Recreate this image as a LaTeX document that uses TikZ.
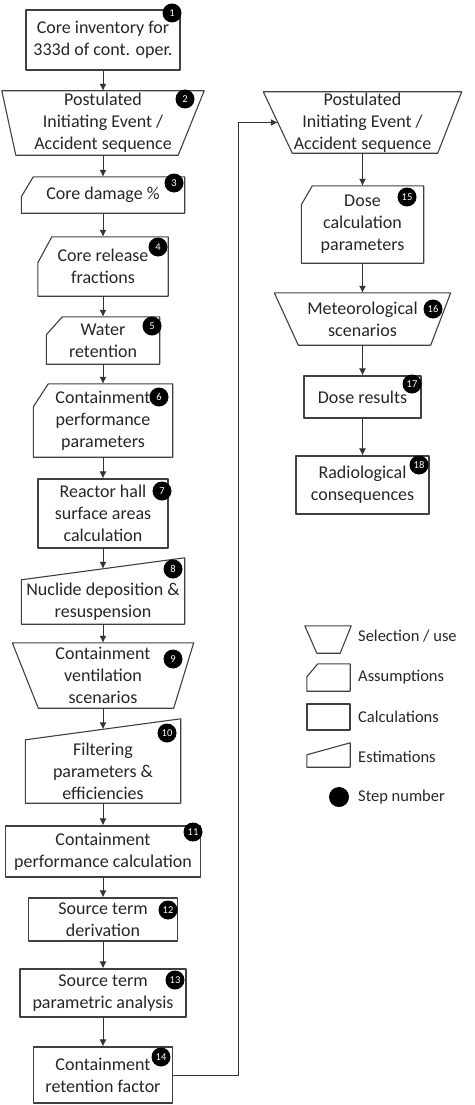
\documentclass[tikz,border=0pt]{standalone}
\usepackage{fontspec}
\setmainfont{Carlito}
\usetikzlibrary{arrows.meta}
\tikzset{
  every node/.style={font=\fontsize{18}{22}\selectfont, text=black!85, align=center, inner sep=0pt},
}
\begin{document}
\begin{tikzpicture}[x=1pt, y=-1pt, line join=round,
    wh/.style 2 args={minimum width=#1pt, minimum height=#2pt},
    calcbox/.style={draw=black!75, line width=1.1pt},
    outline/.style={draw=black!75, line width=1.1pt},
    arrow/.style={draw=black!80, line width=1pt, -{Latex[length=7pt,width=7pt]}},
    badge/.style={circle, fill=black, minimum size=19pt, text=white, font=\fontsize{10.5}{11}\selectfont},
    keytext/.style={anchor=west, font=\fontsize{16.5}{20}\selectfont}]
    \clip (0,0) rectangle (474,1105);

    % left column
    \node[calcbox, wh={154}{60}] (n1) at (103,40) {Core inventory for\\333d of cont. oper.};
    \node[wh={202}{64}] (n2) at (103,123) {Postulated\\Initiating Event /\\Accident sequence};
    \node[wh={163}{36}] (n3) at (103,195) {Core damage \%};
    \node[wh={130}{59}] (n4) at (103,266.5) {Core release\\fractions};
    \node[wh={113}{47}] (n5) at (103,340.5) {Water\\retention};
    \node[wh={139}{73}] (n6) at (103,420.5) {Containment\\performance\\parameters};
    \node[calcbox, wh={130}{69}] (n7) at (103,513.5) {Reactor hall\\surface areas\\calculation};
    \node[wh={163}{44}] (n8) at (103,602) {Nuclide deposition \&\\resuspension};
    \node[wh={181}{65}] (n9) at (103,675.5) {Containment\\ventilation\\scenarios};
    \node[wh={155}{63}] (n10) at (103,771.5) {Filtering\\parameters \&\\efficiencies};
    \node[calcbox, wh={195}{51}] (n11) at (103,851.5) {Containment\\performance calculation};
    \node[calcbox, wh={149}{43}] (n12) at (103,919.5) {Source term\\derivation};
    \node[calcbox, wh={166}{48}] (n13) at (103,993) {Source term\\parametric analysis};
    \node[calcbox, wh={139}{56}] (n14) at (103,1075) {Containment\\retention factor};

    % right column
    \node[wh={198}{61}] (r1) at (362.5,122.5) {Postulated\\Initiating Event /\\Accident sequence};
    \node[wh={122}{77}] (r15) at (362.5,224.5) {Dose\\calculation\\parameters};
    \node[wh={176}{52}] (r16) at (362.5,319) {Meteorological\\scenarios};
    \node[calcbox, wh={117}{42}] (r17) at (362.5,397) {Dose results};
    \node[calcbox, wh={133}{58}] (r18) at (362.5,485) {Radiological\\consequences};

    % key
    \node[wh={46}{27}] (kSel) at (328,639.5) {};
    \node[wh={43}{27}] (kAss) at (328.5,677.5) {};
    \node[calcbox, wh={43}{26}] (kCalc) at (328.5,717) {};
    \node[wh={43}{12}] (kEst) at (328.5,761) {};
    \node[circle, fill=black, minimum size=20pt] (kDot) at (339,797) {};
    \node[keytext] (tSel) at (358,636) {Selection / use};
    \node[keytext] (tAss) at (358,677) {Assumptions};
    \node[keytext] (tCalc) at (358,717) {Calculations};
    \node[keytext] (tEst) at (358,757) {Estimations};
    \node[keytext] (tDot) at (358,797) {Step number};

    % selection / use outlines
    \foreach \n/\a/\b in {n2/14pt/26pt, n9/26pt/20pt, r1/29pt/24pt, r16/24pt/20pt, kSel/12pt/11pt}
        \draw[outline] (\n.north west) -- (\n.north east) -- ([xshift=-\b]\n.south east)
            -- ([xshift=\a]\n.south west) -- cycle;
    % assumption outlines
    \foreach \n/\a/\b in {n3/12pt/20pt, n4/14pt/26pt, n5/16pt/18pt, n6/15pt/23pt, r15/11pt/19pt, kAss/11pt/13pt}
        \draw[outline] ([xshift=\a]\n.north west) -- (\n.north east) -- (\n.south east)
            -- (\n.south west) -- ([yshift=-\b]\n.north west) -- cycle;
    % estimation outlines
    \foreach \n/\s in {n8/22pt, n10/21pt, kEst/12pt}
        \draw[outline] (\n.south west) -- (\n.north west) -- ([yshift=\s]\n.north east)
            -- (\n.south east) -- cycle;

    % connectors
    \foreach \a/\b/\s in {n1/n2/0pt, n2/n3/0pt, n3/n4/0pt, n4/n5/0pt, n5/n6/0pt, n6/n7/0pt,
                          n7/n8/11pt, n8/n9/0pt, n9/n10/10.5pt, n10/n11/0pt, n11/n12/0pt,
                          n12/n13/0pt, n13/n14/0pt, r1/r15/0pt, r15/r16/0pt, r16/r17/0pt, r17/r18/0pt}
        \draw[arrow] (\a.south) -- ([yshift=\s]\b.north);
    \draw[arrow] (n14.east) -- ++(65,0) |- ([xshift=14.5pt]r1.west);

    % step numbers
    \foreach \i/\x/\y in {1/172/13, 2/185/99, 3/174/183, 4/158/247, 5/152/326, 6/159/397,
                          7/162/491, 8/173/569, 9/173/659, 10/167/733, 11/193/832, 12/168/910,
                          13/175/980, 14/161/1057, 15/407/197, 16/433/309, 17/412/384, 18/419/465}
        \node[badge] (b\i) at (\x,\y) {\i};
\end{tikzpicture}
\end{document}
